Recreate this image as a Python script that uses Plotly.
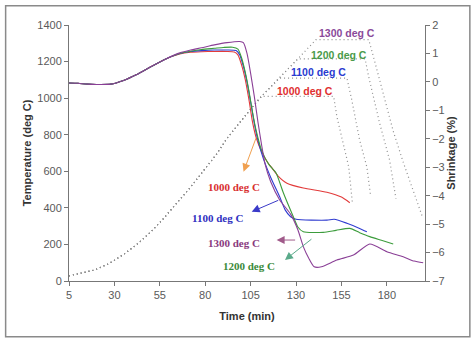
import plotly.graph_objects as go

# ---- furnace temperature (left axis, deg C) ----
heat_time = [5, 10, 19, 27, 35, 43, 50, 56, 61, 67, 72, 80, 86, 92, 99, 105, 111]
heat_temp = [28, 40, 60, 95, 145, 205, 268, 330, 388, 455, 514, 615, 690, 780, 868, 940, 1010]

t1000_time = [150.7, 152.5, 156, 159, 161]
t1000_temp = [1010, 898, 755, 625, 430]

t1100_time = [121, 158, 160.7, 165, 169, 171]
t1100_temp = [1110, 1110, 990, 771, 623, 470]

t1200_time = [121, 131, 168, 170, 176, 181.5, 185]
t1200_temp = [1110, 1215, 1215, 1117, 864, 662, 450]

t1300_time = [121, 131, 141, 170, 172.6, 178, 183.5, 189, 194.5, 199.6]
t1300_temp = [1110, 1215, 1320, 1320, 1227, 1028, 820, 650, 490, 350]

# ---- shrinkage (right axis, %) ----
common_time = [5, 10, 15, 20, 28, 35, 42, 50, 58]
common_shr = [-0.04, -0.05, -0.08, -0.09, -0.08, 0.05, 0.25, 0.53, 0.8]

s1000_time = [66, 72, 78, 85, 92, 96, 98, 100, 102, 104, 106, 108, 111, 114, 117, 120, 125, 134, 147, 155, 159.6]
s1000_shr = [0.98, 1.04, 1.06, 1.07, 1.07, 1.05, 0.95, 0.6, 0.1, -0.6, -1.4, -1.95, -2.45, -2.8, -3.05, -3.3, -3.56, -3.73, -3.88, -4.05, -4.25]

s1100_time = [66, 72, 78, 85, 92, 97, 99, 101, 103, 105, 107, 109, 112, 116, 121, 124, 127, 130, 147, 151, 158, 165, 169]
s1100_shr = [1.0, 1.07, 1.1, 1.12, 1.12, 1.1, 0.95, 0.55, 0.0, -0.7, -1.45, -2.05, -2.7, -3.35, -4.04, -4.5, -4.74, -4.83, -4.86, -4.83, -4.97, -5.15, -5.27]

s1200_time = [66, 72, 78, 85, 90, 95, 98, 100, 102, 104, 106, 108, 111, 115, 119, 123, 128.5, 131, 134, 145, 152, 159.6, 165, 170.6, 177, 183.5]
s1200_shr = [1.0, 1.08, 1.14, 1.18, 1.21, 1.22, 1.15, 0.85, 0.35, -0.3, -1.05, -1.7, -2.4, -2.9, -3.2, -3.9, -4.74, -5.1, -5.27, -5.29, -5.22, -5.15, -5.3, -5.44, -5.57, -5.7]

s1300_time = [66, 72, 78, 85, 92, 99, 101, 103, 105, 107, 109, 111, 113, 116, 121, 127, 131, 134, 137, 140, 144, 152.5, 161.6, 170.6, 180, 189, 195, 200]
s1300_shr = [1.02, 1.12, 1.2, 1.3, 1.38, 1.42, 1.38, 1.0, 0.3, -0.5, -1.4, -2.2, -2.9, -3.5, -4.15, -4.65, -5.2, -5.79, -6.2, -6.5, -6.5, -6.26, -6.09, -5.7, -5.97, -6.15, -6.3, -6.36]

run_names = ["1000 deg C", "1100 deg C", "1200 deg C", "1300 deg C"]
run_colors = ["#e23b3b", "#2f3bd0", "#3c9c3c", "#8a3f96"]

temp_runs = [
    (heat_time + [111] + t1000_time, heat_temp + [1010] + t1000_temp),
    (heat_time + t1100_time, heat_temp + t1100_temp),
    (heat_time + t1200_time, heat_temp + t1200_temp),
    (heat_time + t1300_time, heat_temp + t1300_temp),
]
shr_runs = [
    (common_time + s1000_time, common_shr + s1000_shr),
    (common_time + s1100_time, common_shr + s1100_shr),
    (common_time + s1200_time, common_shr + s1200_shr),
    (common_time + s1300_time, common_shr + s1300_shr),
]

fig = go.Figure()

for (tx, ty), name in zip(temp_runs, run_names):
    fig.add_trace(go.Scatter(x=tx, y=ty, mode="lines", name=name + " temperature",
                             line=dict(color="#8e8e8e", width=1.2, dash="1px,3px"),
                             yaxis="y"))

for (sx, sy), name, col in zip(shr_runs, run_names, run_colors):
    fig.add_trace(go.Scatter(x=sx, y=sy, mode="lines", name=name + " shrinkage",
                             line=dict(color=col, width=1.1, shape="spline", smoothing=0.6),
                             yaxis="y2"))

sans = "Arial, Liberation Sans, sans-serif"
serif = "Times New Roman, Liberation Serif, serif"

# labels on the temperature plateaus
top_labels = [
    ("1300 deg C", 158.1, 1356, "#8a4a9a"),
    ("1200 deg C", 153.5, 1236, "#4a9a4a"),
    ("1100 deg C", 142.1, 1143, "#2a3ad0"),
    ("1000 deg C", 135.0, 1039, "#e03030"),
]
annotations = []
for txt, x, y, col in top_labels:
    annotations.append(dict(x=x, y=y, xref="x", yref="y", text="<b>" + txt + "</b>",
                            showarrow=False, font=dict(family=sans, size=10.5, color=col)))

# labels pointing at the shrinkage curves
low_labels = [
    ("1000 deg C", 95.8, 514, "#d83030"),
    ("1100 deg C", 86.7, 342, "#3030c0"),
    ("1300 deg C", 95.8, 210, "#8a3a7e"),
    ("1200 deg C", 104.1, 82, "#3a8a3a"),
]
for txt, x, y, col in low_labels:
    annotations.append(dict(x=x, y=y, xref="x", yref="y", text="<b>" + txt + "</b>",
                            showarrow=False, font=dict(family=serif, size=11, color=col)))

arrows = [
    (101.1, 598, 13, -35, "#f0a050"),
    (105.6, 379, 28, -12, "#3a3ac8"),
    (119.3, 224, 20, 0, "#a05a8a"),
    (123.9, 115, 28, -22, "#5aaa8a"),
]
for x, y, ax, ay, col in arrows:
    annotations.append(dict(x=x, y=y, xref="x", yref="y", ax=ax, ay=ay, text="",
                            showarrow=True, arrowhead=2, arrowsize=1.6, arrowwidth=1,
                            arrowcolor=col))

axis_font = dict(family=sans, size=11, color="#5a5a5a")
title_font = dict(family=sans, size=11, color="#333333")

fig.update_layout(
    width=474, height=341,
    margin=dict(l=69, r=49, t=25, b=60),
    paper_bgcolor="white", plot_bgcolor="white",
    showlegend=False,
    annotations=annotations,
    xaxis=dict(range=[5, 201], tick0=5, dtick=25, showgrid=False, zeroline=False,
               showline=True, linecolor="#777777", linewidth=1,
               ticks="outside", ticklen=4, tickcolor="#777777",
               tickfont=axis_font,
               title=dict(text="<b>Time (min)</b>", font=title_font, standoff=12)),
    yaxis=dict(range=[0, 1400], dtick=200, showgrid=False, zeroline=False,
               showline=True, linecolor="#777777", linewidth=1,
               ticks="outside", ticklen=4, tickcolor="#777777",
               tickfont=axis_font,
               title=dict(text="<b>Temperature (deg C)</b>", font=title_font, standoff=3)),
    yaxis2=dict(range=[-7, 2], dtick=1, overlaying="y", side="right",
                showgrid=False, zeroline=False,
                showline=True, linecolor="#777777", linewidth=1,
                ticks="outside", ticklen=4, tickcolor="#777777",
                tickfont=axis_font,
                title=dict(text="<b>Shrinkage (%)</b>", font=title_font, standoff=2)),
    shapes=[dict(type="rect", xref="paper", yref="paper",
                 x0=-0.178, x1=1.126, y0=-0.2176, y1=1.075,
                 line=dict(color="#8a8a8a", width=1.5))],
)

fig.write_html("out.html")
